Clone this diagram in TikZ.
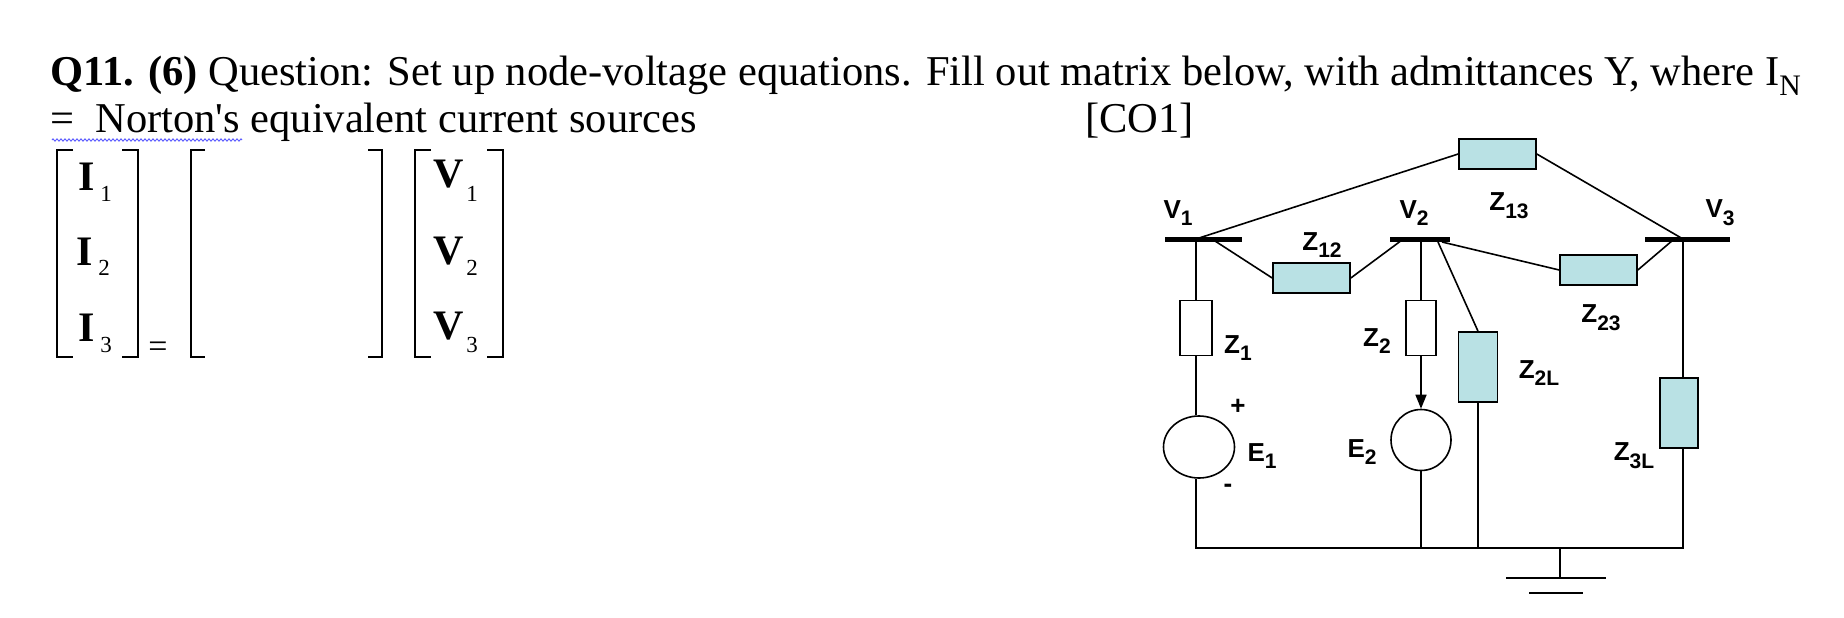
\documentclass[tikz,border=0pt]{standalone}
\usepackage{fontspec}
\setmainfont{Liberation Serif}
\newfontfamily\arialf{Liberation Sans}
\usetikzlibrary{arrows.meta,decorations.pathmorphing,shapes.geometric}
\newcommand{\sbx}[1]{\raisebox{-0.3em}{\fontsize{21}{22}\selectfont #1}}
\begin{document}
\begin{tikzpicture}[x=1pt,y=-1pt,
  wire/.style={line width=1.6pt},
  bus/.style={line width=5pt},
  zbox/.style={draw,line width=1.6pt,fill=zfill,inner sep=0pt},
  wbox/.style={draw,line width=1.6pt,fill=white,inner sep=0pt},
  lab/.style={font=\arialf\bfseries\fontsize{26}{28}\selectfont,inner sep=0pt},
  ttl/.style={font=\fontsize{42.5}{46}\selectfont,inner sep=0pt,anchor=base west},
  brk/.style={line width=1.6pt},
  mv/.style={font=\bfseries\fontsize{42}{44}\selectfont,inner sep=0pt},
  ms/.style={font=\fontsize{23}{24}\selectfont,inner sep=0pt}]
\definecolor{zfill}{RGB}{185,225,228}
\useasboundingbox (0,0) rectangle (1844,618);
\node[ttl] (t1) at (50,85) {\textbf{Q11. (6)} Question: Set up node-voltage equations. Fill out matrix below, with admittances Y, where I\textsubscript{N}};
\node[ttl] (t2) at (50,132) {=\ \ Norton\textquotesingle s equivalent current sources};
\node[ttl] (t3) at (1085,132) {[CO1]};
\draw[blue!70,line width=0.8pt,decorate,decoration={zigzag,amplitude=1.2pt,segment length=4pt}] (52,140) -- (242,140);
% matrices
\draw[brk] (73,150) -- (57,150) -- (57,357) -- (73,357);
\draw[brk] (122,150) -- (138,150) -- (138,357) -- (122,357);
\draw[brk] (205,150) -- (191,150) -- (191,357) -- (205,357);
\draw[brk] (368,150) -- (382,150) -- (382,357) -- (368,357);
\draw[brk] (431,150) -- (415,150) -- (415,357) -- (431,357);
\draw[brk] (487,150) -- (503,150) -- (503,357) -- (487,357);
\node[mv] (i1) at (87,177) {I}; \node[ms] (i1s) at (106,194) {1};
\node[mv] (i2) at (85,252) {I}; \node[ms] (i2s) at (104,268) {2};
\node[mv] (i3) at (87,328) {I}; \node[ms] (i3s) at (106,345) {3};
\node[mv] (v1) at (449,174) {V}; \node[ms] (v1s) at (472,194) {1};
\node[mv] (v2) at (449,251) {V}; \node[ms] (v2s) at (472,268) {2};
\node[mv] (v3) at (449,326) {V}; \node[ms] (v3s) at (472,345) {3};
\node[font=\fontsize{34}{36}\selectfont,inner sep=0pt] (eq) at (158,350) {=};
% circuit
\draw[bus] (1165,239) -- (1242,239);
\draw[bus] (1390,239) -- (1450,239);
\draw[bus] (1645,239) -- (1730,239);
\node[zbox,minimum width=77pt,minimum height=30pt] (z13) at (1497.5,154) {};
\node[zbox,minimum width=77pt,minimum height=30pt] (z12) at (1311.5,278) {};
\node[zbox,minimum width=77pt,minimum height=30pt] (z23) at (1598.5,270) {};
\node[wbox,minimum width=32pt,minimum height=55pt] (z1) at (1196,328) {};
\node[wbox,minimum width=30pt,minimum height=55pt] (z2) at (1421,328) {};
\node[zbox,minimum width=39pt,minimum height=70pt] (z2l) at (1478,367) {};
\node[zbox,minimum width=38pt,minimum height=70pt] (z3l) at (1679,413) {};
\node[draw,line width=1.6pt,ellipse,minimum width=71pt,minimum height=62pt,inner sep=0pt] (e1) at (1199,447) {};
\node[draw,line width=1.6pt,ellipse,minimum width=60pt,minimum height=61pt,inner sep=0pt] (e2) at (1421,440) {};
\coordinate (b1) at (1196,239); \coordinate (b3) at (1683,239);
\coordinate (g1) at (1196,548); \coordinate (g2) at (1421,548); \coordinate (g3) at (1478,548);
\coordinate (g4) at (1683,548); \coordinate (gm) at (1560,548); \coordinate (gb) at (1560,578);
\draw[wire] (b1) -- (z13.west); \draw[wire] (z13.east) -- (b3);
\draw[wire] (1215,241) -- (z12.west); \draw[wire] (z12.east) -- (1402,240);
\draw[wire] (1442,242) -- (z23.west); \draw[wire] (z23.east) -- (1673,240);
\draw[wire] (b1) -- (z1.north); \draw[wire] (z1.south) -- (e1.north -| b1);
\draw[wire] (e1.south -| b1) -- (g1) -- (g4) -- (z3l.south -| g4);
\draw[wire] (b3) -- (z3l.north -| b3);
\draw[wire] (1421,241) -- (z2.north);
\draw[wire,-{Triangle[length=14pt,width=11pt]}] (z2.south) -- (e2.north);
\draw[wire] (e2.south) -- (g2);
\draw[wire] (1438,242) -- (z2l.north); \draw[wire] (z2l.south) -- (g3);
\draw[wire] (gm) -- (gb);
\draw[wire] (1506,578) -- (1606,578);
\draw[wire] (1529,593) -- (1583,593);
\node[lab] (lv1) at (1178,213) {V\sbx{1}};
\node[lab] (lv2) at (1414,213) {V\sbx{2}};
\node[lab] (lv3) at (1720,213) {V\sbx{3}};
\node[lab] (l13) at (1509,206) {Z\sbx{13}};
\node[lab] (l12) at (1322,245) {Z\sbx{12}};
\node[lab] (l23) at (1601,318) {Z\sbx{23}};
\node[lab] (l1) at (1238,348) {Z\sbx{1}};
\node[lab] (l2) at (1377,341) {Z\sbx{2}};
\node[lab] (l2l) at (1539,373) {Z\sbx{2L}};
\node[lab] (l3l) at (1634,456) {Z\sbx{3L}};
\node[lab] (le1) at (1262,456) {E\sbx{1}};
\node[lab] (le2) at (1362,452) {E\sbx{2}};
\node[lab] (lp) at (1238,407) {+};
\node[lab] (lm) at (1228,488) {-};
\end{tikzpicture}
\end{document}
